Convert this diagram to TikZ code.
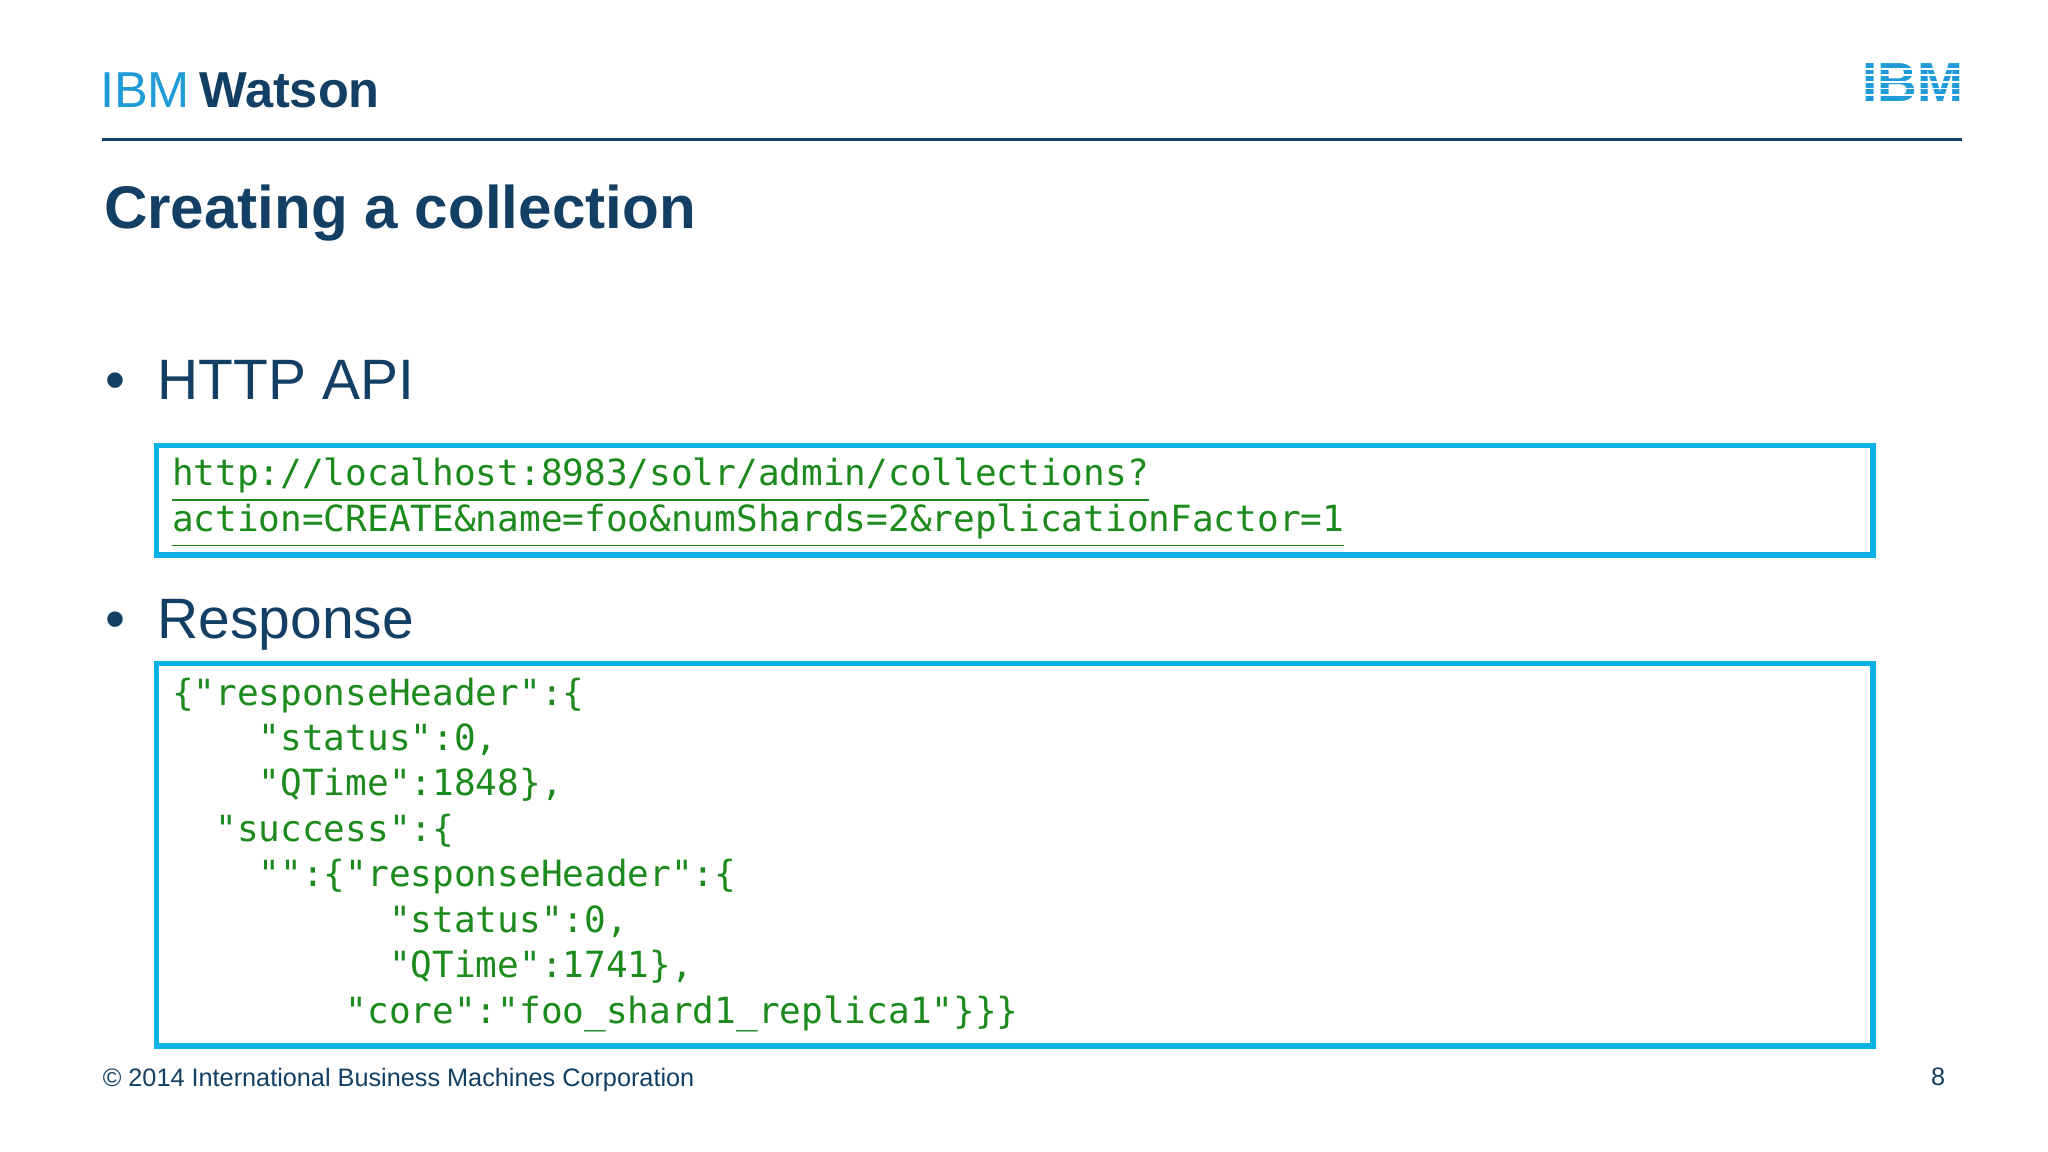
\documentclass[tikz,border=0pt]{standalone}
\usepackage{fontspec}
\setmainfont{Liberation Sans}
\newfontfamily\codefont{DejaVu Sans Mono}
\definecolor{ibmdark}{HTML}{123F63}
\definecolor{ibmlight}{HTML}{1F9BD7}
\definecolor{boxcyan}{HTML}{0AB2E8}
\definecolor{codegreen}{HTML}{1C8A1C}
\tikzset{
  codebox/.style={draw=boxcyan,line width=1.2pt},
  codeline/.style={anchor=base west,inner sep=0,font=\codefont\fontsize{7.85}{10}\selectfont,text=codegreen},
  bullet/.style={anchor=base west,inner sep=0,font=\fontsize{12.4}{15}\selectfont,text=ibmdark},
}
\begin{document}
\begin{tikzpicture}[x=0.01cm,y=-0.01cm]
\useasboundingbox[fill=white] (0,0) rectangle (1568,882);
% header
\node[anchor=base west,inner sep=0] (logo) at (76,82) {\fontsize{11}{13}\selectfont\textcolor{ibmlight}{IBM}\hspace{2pt}\textcolor{ibmdark}{\bfseries Watson}};
\node[anchor=base east,inner sep=0] (ibm) at (1504,78) {\fontsize{12}{13}\selectfont\bfseries\textcolor{ibmlight}{IBM}};
\foreach \yy in {52,57,62,67,72} \fill[white] (1420,\yy) rectangle (1508,\yy+1.3);
\coordinate (hl) at (78,107); \coordinate (hr) at (1502,107);
\draw[ibmdark,line width=0.6pt] (hl) -- (hr);
\node[anchor=base west,inner sep=0,font=\fontsize{13.1}{15}\selectfont\bfseries,text=ibmdark] (title) at (79,175) {Creating a collection};
% bullets
\node[bullet] (b1) at (80,306) {•}; \node[bullet] (t1) at (120,306) {HTTP API};
\node[bullet] (b2) at (80,489) {•}; \node[bullet] (t2) at (120,489) {Response};
% boxes
\draw[codebox] (120,341) rectangle (1434,425);
\node[codeline] (u1) at (131,372) {\underline{http://localhost:8983/solr/admin/collections?}};
\node[codeline] (u2) at (131,407) {\underline{action=CREATE\&name=foo\&numShards=2\&replicationFactor=1}};
\draw[codebox] (120,508) rectangle (1434,801);
\foreach \t [count=\i] in {
{\{"responseHeader":\{},
{\ \ \ \ "status":0,},
{\ \ \ \ "QTime":1848\},},
{\ \ "success":\{},
{\ \ \ \ "":\{"responseHeader":\{},
{\ \ \ \ \ \ \ \ \ \ "status":0,},
{\ \ \ \ \ \ \ \ \ \ "QTime":1741\},},
{\ \ \ \ \ \ \ \ "core":"foo\_shard1\_replica1"\}\}\}}}
  \node[codeline] (c\i) at (131,505+\i*34.8) {\t};
% footer
\node[anchor=base west,inner sep=0,font=\fontsize{5.5}{6}\selectfont,text=ibmdark] (foot) at (78,832) {© 2014 International Business Machines Corporation};
\node[anchor=base east,inner sep=0,font=\fontsize{5.5}{6}\selectfont,text=ibmdark] (pg) at (1490,831) {8};
\end{tikzpicture}
\end{document}
